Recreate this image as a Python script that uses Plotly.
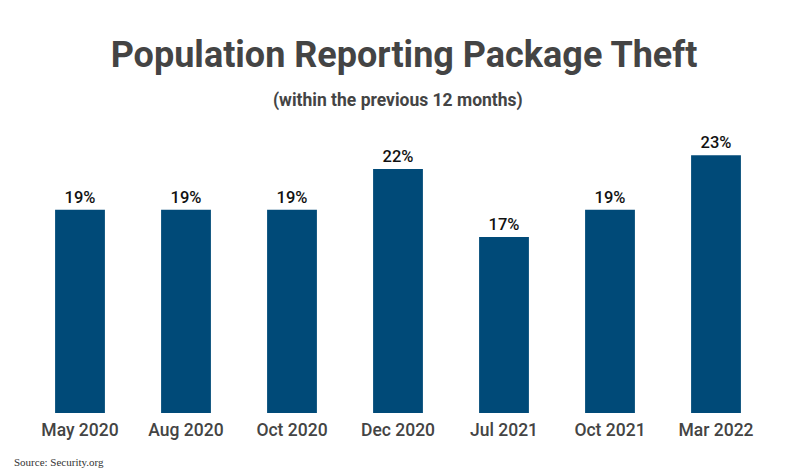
"""Bar chart: population reporting package theft."""
import plotly.graph_objects as go

# survey waves and share of respondents reporting theft (%)
periods = ["May 2020", "Aug 2020", "Oct 2020", "Dec 2020", "Jul 2021", "Oct 2021", "Mar 2022"]
share_pct = [19, 19, 19, 22, 17, 19, 23]

BAR_BLUE = "#004a78"
GREY_TEXT = "#444444"

fig = go.Figure()
fig.add_trace(
    go.Bar(
        x=periods,
        y=share_pct,
        marker=dict(color=BAR_BLUE, line=dict(width=0)),
        text=[f"{v}%" for v in share_pct],
        textposition="outside",
        textfont=dict(family="Roboto", size=16.5, color="#111111", weight=500),
        cliponaxis=False,
        hoverinfo="skip",
    )
)

# page body has an 8px margin, so the figure is sized to fill the rest
fig.update_layout(
    width=792,
    height=467,
    margin=dict(l=19, r=31, t=120, b=62),
    paper_bgcolor="white",
    plot_bgcolor="white",
    bargap=0.53,
    showlegend=False,
    title=dict(
        text="Population Reporting Package Theft",
        x=0.5,
        xanchor="center",
        y=0.9015,
        yanchor="middle",
        font=dict(family="Roboto", size=36, color=GREY_TEXT, weight=700),
    ),
    annotations=[
        dict(
            text="(within the previous 12 months)",
            xref="paper", yref="paper",
            x=0.5, y=1.0, yanchor="middle", xanchor="center",
            yshift=28,
            showarrow=False,
            font=dict(family="Roboto", size=17.5, color=GREY_TEXT, weight=700),
        ),
        dict(
            text="Source: Security.org",
            xref="paper", yref="paper",
            x=-0.0202, y=0, xanchor="left", yanchor="middle",
            yshift=-49,
            showarrow=False,
            font=dict(family="Liberation Serif", size=11, color="#333333"),
        ),
    ],
    xaxis=dict(
        showgrid=False,
        showline=False,
        ticks="",
        ticklabelstandoff=4,
        tickfont=dict(family="Roboto", size=17.5, color=GREY_TEXT, weight=500),
    ),
    yaxis=dict(
        range=[4.1, 25],
        visible=False,
        showgrid=False,
    ),
)

fig.write_html("out.html")
